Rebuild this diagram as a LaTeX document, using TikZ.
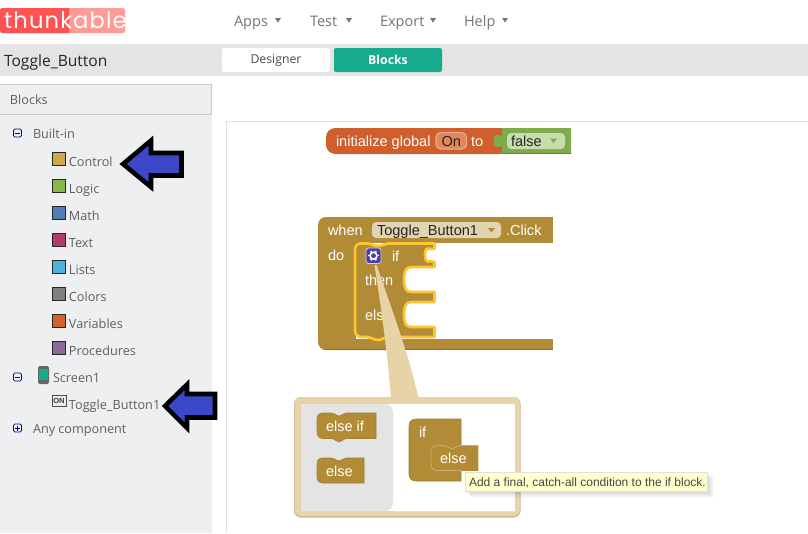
\documentclass[tikz,border=0pt]{standalone}
\usepackage{fontspec}
\setmainfont{Liberation Sans}
\newfontfamily\uifont{Open Sans}
\newfontfamily\logofont[LetterSpace=5]{Poppins}
\newcommand{\fsz}[1]{\fontsize{#1}{#1}\selectfont}
\definecolor{band}{HTML}{E4E4E4}
\definecolor{side}{HTML}{EEEFF1}
\definecolor{teal}{HTML}{16AB8C}
\definecolor{menugray}{HTML}{757575}
\definecolor{treetext}{HTML}{5F5F5F}
\definecolor{brown}{HTML}{B18B35}
\definecolor{brownd}{HTML}{8F7029}
\definecolor{yel}{HTML}{FBC62F}
\definecolor{orng}{HTML}{D05F2D}
\definecolor{grn}{HTML}{7FAB4A}
\definecolor{beige}{HTML}{E8D3A9}
\definecolor{arrowblue}{HTML}{3C48C8}
\definecolor{logoa}{HTML}{FF5252}
\definecolor{logob}{HTML}{FF9A96}
\definecolor{onedge}{HTML}{E8AA8C}
\definecolor{onfill}{HTML}{E2865C}
\definecolor{falsefill}{HTML}{C7DDAC}
\definecolor{togfill}{HTML}{E0D4B2}
\definecolor{gearblue}{HTML}{4B3FA8}
\definecolor{tipfill}{HTML}{FFFFCC}
\definecolor{control}{HTML}{CCA94C}
\definecolor{logicc}{HTML}{8AB54F}
\definecolor{mathc}{HTML}{4F7DB5}
\definecolor{textc}{HTML}{B53A6B}
\definecolor{listc}{HTML}{4DB3DC}
\definecolor{colorc}{HTML}{808080}
\definecolor{varc}{HTML}{D0622D}
\definecolor{procc}{HTML}{8E6A9B}
\usetikzlibrary{calc}
\tikzset{
  x=0.75pt,y=-0.75pt,
  lab/.style={anchor=base west,inner sep=0pt,outer sep=0pt},
  menu/.style={lab,text=menugray,font=\uifont\fsz{10.9}},
  tree/.style={lab,text=treetext,font=\uifont\fsz{9.5}},
  tri/.style={fill=menugray,draw=none},
  swatch/.style={draw=black!85,line width=.6pt},
  expander/.style={draw=blue!55!black,line width=.6pt,rounded corners=1pt,fill=side},
  bigarrow/.style={draw=black,line width=3.4pt,fill=arrowblue,line join=miter},
  blk/.style={fill=brown,draw=brownd!50!brown,line width=.4pt},
  blktext/.style={lab,text=white,font=\fsz{10.9}},
  fieldtext/.style={lab,text=black!85,font=\fsz{10.9}},
}
\newcommand{\swatchbox}[3]{\draw[swatch,fill=#2] (52.5,#1+.5) rectangle (65.5,#1+13.5);
  \node[tree] (sw#3) at (69,#1+14.3) {#3};}
\newcommand{\mtri}[2]{\fill[tri] (#1-3,#2-2) -- (#1+3,#2-2) -- (#1,#2+2.5) -- cycle;}
\begin{document}
\begin{tikzpicture}
\useasboundingbox (0,0) rectangle (808,533);
\fill[white] (0,0) rectangle (808,533);
% logo
\fill[rounded corners=1.8pt,fill=logob] (0,8) rectangle (125,33);
\begin{scope}
\clip (0,8) rectangle (69,33);
\fill[rounded corners=1.8pt,fill=logoa] (0,8) rectangle (125,33);
\end{scope}
\node[lab,text=white,font=\logofont\fsz{17}] (logo) at (4,28) {thunkable};
% menus
\node[menu] (mApps) at (234,26) {Apps}; \mtri{278}{20}
\node[menu] (mTest) at (310,26) {Test}; \mtri{349}{20}
\node[menu] (mExport) at (380,26) {Export}; \mtri{433}{20}
\node[menu] (mHelp) at (464,26) {Help}; \mtri{505}{20}
% band
\fill[band] (0,44) rectangle (808,76);
\node[lab,text=black!85,font=\uifont\fsz{11.7}] (title) at (4,66) {Toggle\_Button};
\fill[white,rounded corners=1.5pt] (222,48) rectangle (330,72);
\node[text=black!70,font=\uifont\fsz{9.2},inner sep=0pt] (designer) at (276,60) {Designer};
\fill[teal,rounded corners=1.5pt] (334,48) rectangle (442,72);
\node[text=white,font=\uifont\bfseries\fsz{9.2},inner sep=0pt] (blockstab) at (388,60) {Blocks};
% sidebar
\fill[side] (0,84) rectangle (212,533);
\draw[draw=black!22,line width=.75pt,fill=side] (-1,84.5) rectangle (211.5,114.5);
\node[tree] (blockshead) at (10,104) {Blocks};
% workspace frame
\draw[draw=black!12,line width=.9pt] (808,121.5) -- (226.5,121.5) -- (226.5,533);
% tree
\draw[expander] (13.5,129) rectangle (21.5,137);
\draw[blue!55!black,line width=.7pt] (15,133) -- (20,133);
\node[tree] (builtin) at (33,138) {Built-in};
\swatchbox{152}{control}{Control}
\swatchbox{179}{logicc}{Logic}
\swatchbox{206}{mathc}{Math}
\swatchbox{233}{textc}{Text}
\swatchbox{260}{listc}{Lists}
\swatchbox{287}{colorc}{Colors}
\swatchbox{314}{varc}{Variables}
\swatchbox{341}{procc}{Procedures}
\draw[expander] (13.5,373) rectangle (21.5,381);
\draw[blue!55!black,line width=.7pt] (15,377) -- (20,377);
\fill[black!60,rounded corners=1.2pt] (38,366) rectangle (49,384);
\fill[teal] (39.2,368.5) rectangle (47.8,379.5);
\node[tree] (screen) at (53,382) {Screen1};
\draw[black!70,line width=.7pt,fill=side] (52,395.5) rectangle (66,406.5);
\node[text=black!80,font=\bfseries\fsz{5.6},inner sep=0pt] (onicon) at (59,401) {ON};
\node[tree] (togglebtn) at (69,409) {Toggle\_Button1};
\draw[expander] (13.5,424) rectangle (21.5,432);
\draw[blue!55!black,line width=.7pt] (15,428) -- (20,428) (17.5,425.5) -- (17.5,430.5);
\node[tree] (anycomp) at (33,433) {Any component};
% arrows
\draw[bigarrow] (123,164) -- (151,140.5) -- (151,153) -- (181.5,153) -- (181.5,175.5) -- (151,175.5) -- (151,187) -- cycle;
\draw[bigarrow] (165,406) -- (187,384.5) -- (187,394) -- (215,394) -- (215,417.5) -- (187,417.5) -- (187,428) -- cycle;
% initialize block
\fill[orng,rounded corners=7pt] (326,128) rectangle (510,154);
\fill[white] (502,128) rectangle (510,154);
\fill[orng] (500,128) rectangle (502.5,154);
\fill[grn!75!black] (502,153) -- (571,153) -- (571,154) -- (502,154) -- cycle;
\fill[grn] (502,128) -- (571,128) -- (571,153) -- (502,153) -- (502,146) -- (499,147) .. controls (495,148) and (493.5,146) .. (493.5,141) .. controls (493.5,136) and (495,134) .. (499,135) -- (502,136) -- cycle;
\node[blktext] (init) at (336,146.5) {initialize global};
\draw[draw=onedge,fill=onfill,line width=.9pt,rounded corners=3.5pt] (436,132.5) rectangle (466.5,149);
\node[fieldtext] (onname) at (441.5,146.5) {On};
\node[blktext] (initto) at (471,146.5) {to};
\fill[fill=falsefill,rounded corners=3pt] (507,133) rectangle (565,149);
\node[fieldtext] (falsev) at (511,146.5) {false};
\fill[grn] (550,138.5) -- (557,138.5) -- (553.5,143) -- cycle;
% when block
\fill[brown,rounded corners=6pt] (318,350) -- (318,217) -- (400,217) -- (400,350) -- cycle;
\fill[brown] (380,217) rectangle (552.5,243);
\fill[brown] (380,339) rectangle (552.5,350);
\fill[brownd] (324,349.2) -- (552.5,349.2) -- (552.5,350.2) -- (324,350.2) -- cycle;
\fill[white] (364,243) rectangle (552.5,339);
\fill[white] (356,330) rectangle (364,339);
\node[blktext] (when) at (328,235) {when};
\fill[fill=togfill,rounded corners=3pt] (372,222) rectangle (501,238);
\node[fieldtext] (tog) at (377,235) {Toggle\_Button1};
\fill[brown] (488,228) -- (495,228) -- (491.5,232.5) -- cycle;
\node[blktext] (click) at (506,235) {.Click};
\node[blktext] (doo) at (328,260) {do};
% if block
\draw[fill=brown,draw=yel,line width=2pt,line join=round]
  (361,243.5) -- (368,243.5) .. controls (372,243.5) and (373,246) .. (378,246) .. controls (383,246) and (384,243.5) .. (388,243.5) -- (434.5,243.5)
  -- (434.5,249) -- (431,249) .. controls (426,247) and (425,250) .. (425,255) .. controls (425,260) and (426,263) .. (431,261)
  -- (434.5,262) -- (434.5,267) -- (411,267) .. controls (406,267) and (404,271) .. (404,279.5) .. controls (404,288) and (406,292) .. (411,292) -- (434.5,292)
  -- (434.5,302) -- (411,302) .. controls (406,302) and (404,306) .. (404,314.5) .. controls (404,323) and (406,327) .. (411,327) -- (434.5,327)
  -- (434.5,337) -- (388,337)
  .. controls (384,337) and (383,340) .. (378,340) .. controls (373,340) and (372,337) .. (368,337) -- (362,337)
  .. controls (357,337) and (355,334) .. (355,330) -- (355,250) .. controls (355,246) and (357,243.5) .. (361,243.5) -- cycle;
\fill[fill=gearblue,draw=beige,line width=.6pt,rounded corners=2pt] (366,248) rectangle (381,263.5);
\coordinate (gear) at (373.5,255.7);
\draw[white,line width=1.2pt] (gear) circle (2.6pt);
\foreach \a in {0,60,...,300}{\draw[white,line width=1.1pt] ($(gear)+(\a:3pt)$) -- ($(gear)+(\a:4pt)$);}
\node[blktext] (ift) at (392,261) {if};
\node[blktext] (thent) at (365,285) {then};
\node[blktext] (elset) at (365,320) {else};
% callout wedge
\fill[beige] (374.5,265) -- (376.5,265) .. controls (392,310) and (408,352) .. (418.5,398) -- (391,398) .. controls (388,360) and (383,320) .. cycle;
% bubble
\fill[beige!88!black,rounded corners=5pt] (294,397) rectangle (520.5,517.5);
\fill[beige,rounded corners=5pt] (294.5,397) rectangle (520,516);
\fill[white] (300.5,404) rectangle (514.5,511);
\fill[band,rounded corners=6pt] (296,404) -- (393,404) -- (393,511) -- (296,511) -- cycle;
\fill[beige] (294.5,402) rectangle (300.5,513);
\fill[black!12] (393,511) rectangle (514.5,512);
% flyout blocks
\draw[blk] (323,413) -- (331,413) .. controls (335,413) and (336,416) .. (339,416) .. controls (342,416) and (343,413) .. (347,413) -- (376,413) -- (376,438.5) -- (347,438.5) .. controls (343,438.5) and (342,442) .. (339,442) .. controls (336,442) and (335,438.5) .. (331,438.5) -- (323,438.5) .. controls (319,438.5) and (317,436) .. (317,432) -- (317,419) .. controls (317,415) and (319,413) .. (323,413) -- cycle;
\node[blktext] (elseif) at (326,431) {else if};
\draw[blk] (323,458) -- (331,458) .. controls (335,458) and (336,461) .. (339,461) .. controls (342,461) and (343,458) .. (347,458) -- (364,458) -- (364,483) -- (323,483) .. controls (319,483) and (317,481) .. (317,477) -- (317,464) .. controls (317,460) and (319,458) .. (323,458) -- cycle;
\node[blktext] (elsefly) at (326,476) {else};
\draw[blk] (416,419) -- (461,419) -- (461,481) -- (416,481) .. controls (411,481) and (409,478) .. (409,474) -- (409,426) .. controls (409,422) and (411,419) .. (416,419) -- cycle;
\node[blktext] (ifm) at (419,437) {if};
\draw[fill=brown,draw=brownd!40!beige,line width=.7pt] (438,445.5) -- (444,445.5) .. controls (448,445.5) and (449,449) .. (452,449) .. controls (455,449) and (456,445.5) .. (460,445.5) -- (478,445.5) -- (478,470.5) -- (438,470.5) .. controls (433,470.5) and (431,468) .. (431,464) -- (431,452) .. controls (431,448) and (433,445.5) .. (438,445.5) -- cycle;
\fill[brown] (462,446) -- (478,446) -- (478,471) -- (462,471) -- cycle;
\node[blktext] (elsem) at (440,463) {else};
% tooltip
\foreach \i in {1,...,6}{\fill[black,opacity=.025] (465+\i,472+\i) rectangle (708+\i,492+\i);}
\draw[fill=tipfill,draw=black!12,line width=.7pt] (465.5,472.5) rectangle (707.5,491.5);
\node[lab,text=black!72,font=\fsz{9}] (tip) at (469,486) {Add a final, catch-all condition to the if block.};
\end{tikzpicture}
\end{document}
